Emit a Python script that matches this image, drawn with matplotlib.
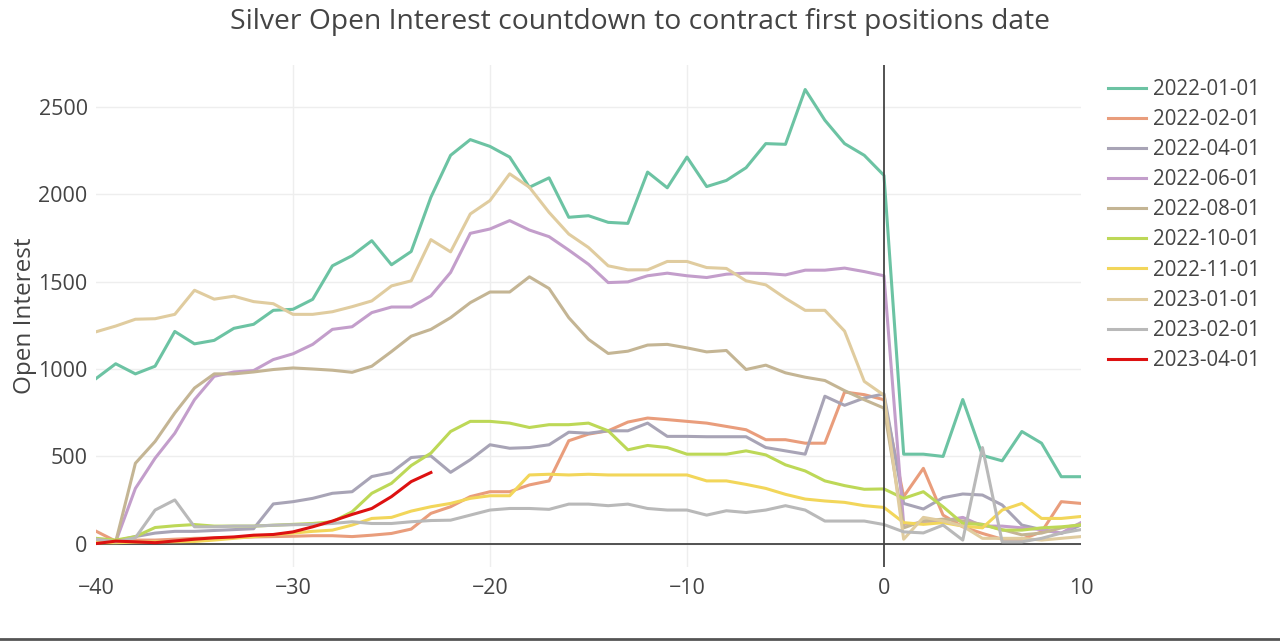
import matplotlib
matplotlib.use('Agg')
import matplotlib.pyplot as plt
from matplotlib.lines import Line2D

plt.rcParams['font.family'] = ['Open Sans', 'DejaVu Sans']

TITLE = 'Silver Open Interest countdown to contract first positions date'
Y_LABEL = 'Open Interest'

days = list(range(-40, 11))

labels = ['2022-01-01', '2022-02-01', '2022-04-01', '2022-06-01', '2022-08-01',
          '2022-10-01', '2022-11-01', '2023-01-01', '2023-02-01', '2023-04-01']

oi_2022_01 = [945, 1030, 972, 1016, 1215, 1144, 1164, 1233, 1256, 1336,
              1342, 1399, 1591, 1649, 1735, 1597, 1673, 1984, 2224, 2314,
              2275, 2214, 2041, 2095, 1869, 1878, 1840, 1834, 2128, 2038,
              2214, 2045, 2080, 2153, 2291, 2287, 2601, 2425, 2291, 2224,
              2109, 512, 512, 499, 825, 505, 474, 642, 575, 383, 383]
oi_2022_02 = [71, 14, 20, 20, 25, 30, 32, 35, 38, 40,
              42, 45, 45, 40, 48, 58, 83, 173, 211, 269,
              297, 297, 336, 359, 589, 627, 646, 696, 719, 710,
              700, 690, 671, 652, 595, 595, 575, 575, 868, 853,
              824, 269, 431, 163, 96, 58, 25, 25, 67, 240, 230]
oi_2022_04 = [20, 15, 40, 60, 70, 70, 75, 80, 85, 227,
              240, 259, 288, 297, 384, 407, 493, 502, 408, 480,
              566, 546, 550, 566, 638, 632, 646, 646, 690, 614,
              614, 612, 612, 612, 550, 531, 512, 844, 792, 834,
              857, 230, 198, 263, 284, 278, 221, 106, 80, 58, 106]
oi_2022_06 = [20, 10, 316, 489, 632, 824, 958, 983, 991, 1054,
              1087, 1141, 1227, 1242, 1323, 1355, 1355, 1419, 1553, 1777,
              1802, 1850, 1796, 1758, 1681, 1600, 1495, 1499, 1534, 1549,
              1534, 1524, 1543, 1549, 1547, 1539, 1566, 1566, 1578, 1558,
              1534, 110, 120, 130, 150, 100, 100, 90, 80, 60, 120]
oi_2022_08 = [20, 10, 460, 585, 748, 891, 972, 972, 983, 997,
              1006, 1000, 993, 981, 1016, 1100, 1188, 1227, 1294, 1380,
              1441, 1441, 1528, 1461, 1294, 1170, 1089, 1102, 1137, 1141,
              1121, 1098, 1106, 997, 1022, 978, 953, 934, 876, 824,
              776, 90, 130, 140, 130, 110, 80, 50, 60, 90, 110]
oi_2022_10 = [30, 20, 40, 92, 102, 109, 100, 100, 100, 105,
              110, 115, 125, 182, 288, 345, 447, 518, 642, 700,
              700, 690, 665, 681, 681, 690, 646, 537, 562, 550,
              512, 512, 512, 531, 508, 451, 416, 359, 332, 311,
              313, 259, 297, 211, 115, 109, 77, 77, 90, 96, 106]
oi_2022_11 = [5, 5, 8, 10, 10, 12, 20, 30, 40, 50,
              60, 70, 77, 106, 144, 150, 186, 211, 230, 259,
              274, 274, 393, 397, 393, 397, 393, 393, 393, 393,
              393, 359, 359, 339, 316, 282, 255, 244, 236, 217,
              207, 120, 110, 120, 100, 90, 192, 230, 144, 144, 155]
oi_2023_01 = [1213, 1246, 1285, 1288, 1313, 1451, 1400, 1417, 1386, 1374,
              1313, 1313, 1328, 1357, 1390, 1476, 1505, 1741, 1671, 1888,
              1965, 2118, 2041, 1897, 1773, 1696, 1591, 1568, 1568, 1616,
              1616, 1581, 1576, 1505, 1482, 1405, 1336, 1336, 1217, 929,
              850, 25, 150, 130, 100, 30, 30, 30, 20, 30, 40]
oi_2023_02 = [25, 10, 33, 192, 250, 96, 96, 100, 100, 105,
              108, 110, 115, 125, 115, 115, 125, 132, 134, 163,
              192, 201, 201, 196, 226, 226, 217, 226, 201, 192,
              192, 163, 188, 178, 192, 217, 192, 129, 129, 129,
              109, 67, 61, 106, 20, 550, 10, 10, 30, 60, 80]
oi_2023_04 = [0, 14, 10, 5, 15, 25, 33, 38, 48, 52,
              67, 96, 129, 167, 201, 269, 355, 407]

series = [oi_2022_01, oi_2022_02, oi_2022_04, oi_2022_06, oi_2022_08,
          oi_2022_10, oi_2022_11, oi_2023_01, oi_2023_02, oi_2023_04]
colors = ['#6cc3a3', '#e99d7c', '#a8a4b6', '#c39ecb', '#c4b594',
          '#bdd857', '#f2d65a', '#e0cc9f', '#b9b9b9', '#dd1111']

fig = plt.figure(figsize=(12.8, 6.41), dpi=100)
ax = fig.add_axes([0.075, 0.1155, 0.7695, 0.7830])

for vals, lab, col in zip(series, labels, colors):
    ax.plot(days[:len(vals)], vals, color=col, lw=2.2, label=lab, zorder=3)

ax.set_xlim(-40, 10)
ax.set_ylim(-134, 2741)
ax.set_xticks([-40, -30, -20, -10, 0, 10])
ax.set_xticklabels(['\u221240', '\u221230', '\u221220', '\u221210', '0', '10'])
ax.set_yticks([0, 500, 1000, 1500, 2000, 2500])

# plotly-like grid: no edge gridlines on x
ax.yaxis.grid(True, color='#eeeeee', lw=1, zorder=0)
for gx in [-30, -20, -10]:
    ax.axvline(gx, color='#eeeeee', lw=1, zorder=0)
ax.axhline(0, color='#444444', lw=1.3, zorder=2)
ax.axvline(0, color='#444444', lw=1.3, zorder=4)
for s in ax.spines.values():
    s.set_visible(False)
ax.tick_params(length=0, labelsize=15.5, colors='#444444')
ax.tick_params(axis='x', pad=8)
ax.tick_params(axis='y', pad=6)

ax.set_ylabel(Y_LABEL, fontsize=17.5, color='#444444')
ax.yaxis.set_label_coords(-0.060, 0.5)
fig.text(0.5, 0.965, TITLE, ha='center', va='center', fontsize=20.3, color='#444444')

handles = [Line2D([], [], color=c, lw=2.2) for c in colors]
fig.legend(handles, labels, loc='upper left', bbox_to_anchor=(0.851, 0.906),
           frameon=False, fontsize=14.8, labelcolor='#444444',
           handlelength=1.85, handletextpad=0.35, labelspacing=0.445)

fig.add_artist(Line2D([0, 1], [0.003, 0.003], color='#555555', lw=2,
                      transform=fig.transFigure))

fig.savefig('out.png', dpi=100, facecolor='white')
